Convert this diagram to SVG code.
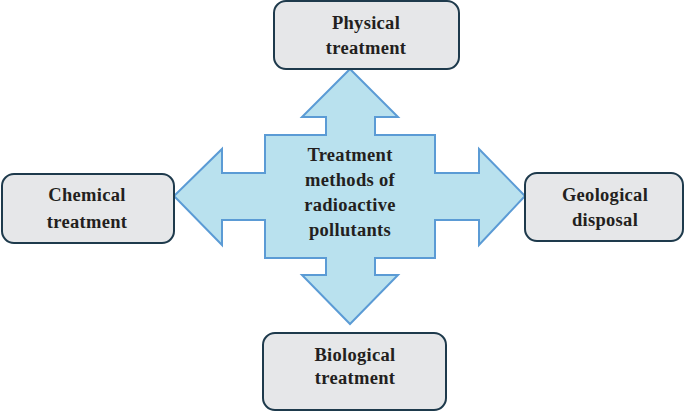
<svg xmlns="http://www.w3.org/2000/svg" width="685" height="412" viewBox="0 0 685 412">
<style>
.box{fill:#e6e7e9;stroke:#1e3a4c;stroke-width:2}
.cross{fill:#b9e1ee;stroke:#5b9bd5;stroke-width:2;stroke-linejoin:miter}
.t{font-weight:bold;font-size:18.5px;fill:#231f20;text-anchor:middle;letter-spacing:0.3px}
</style>
<rect width="685" height="412" fill="#ffffff"/>
<g id="connectors">
<g id="center">
<polygon class="cross" points="350,69 398,117 375,117 375,135 435,135 435,173 479,173 479,149 525,196 479,245 479,220 435,220 435,258 375,258 375,275 398,275 350,324 302,275 326,275 326,258 265,258 265,220 222,220 222,245 174,196 222,149 222,173 265,173 265,135 326,135 326,117 302,117"/>
<g font-family="Liberation Serif, serif">
<text class="t" x="350" y="161">Treatment</text>
<text class="t" x="350" y="186">methods of</text>
<text class="t" x="350" y="211">radioactive</text>
<text class="t" x="350" y="236">pollutants</text>
</g>
</g>
</g>
<g id="physical" font-family="Liberation Serif, serif">
<rect class="box" x="274" y="1" width="185" height="68" rx="12"/>
<text class="t" x="366" y="29">Physical</text>
<text class="t" x="366" y="54">treatment</text>
</g>
<g id="chemical" font-family="Liberation Serif, serif">
<rect class="box" x="2" y="174" width="172" height="69" rx="12"/>
<text class="t" x="87" y="201">Chemical</text>
<text class="t" x="87" y="228">treatment</text>
</g>
<g id="geological" font-family="Liberation Serif, serif">
<rect class="box" x="525" y="173" width="158" height="68" rx="12"/>
<text class="t" x="605" y="201">Geological</text>
<text class="t" x="605" y="226">disposal</text>
</g>
<g id="biological" font-family="Liberation Serif, serif">
<rect class="box" x="263" y="333" width="183" height="77" rx="12"/>
<text class="t" x="355" y="361">Biological</text>
<text class="t" x="355" y="384">treatment</text>
</g>
</svg>
